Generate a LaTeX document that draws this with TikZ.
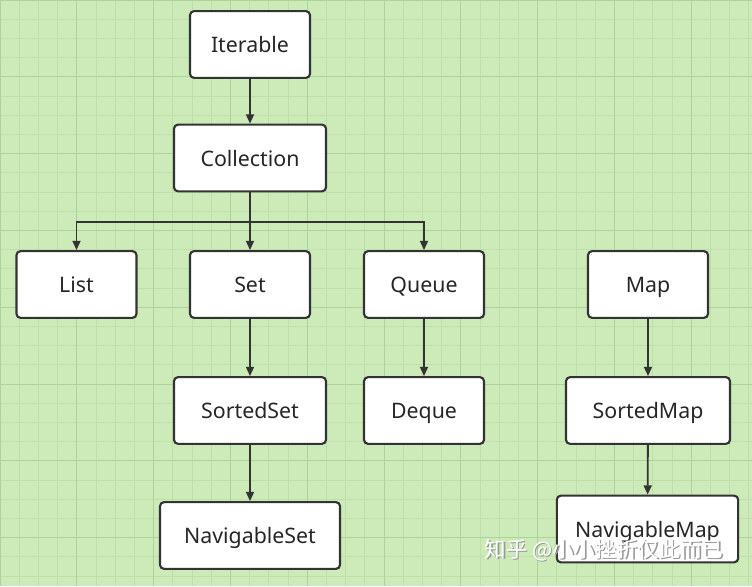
\documentclass[tikz,border=0pt]{standalone}
\usepackage{fontspec}
\setmainfont{Noto Sans}
\newfontfamily\cjk{Noto Sans CJK SC}
\usetikzlibrary{arrows.meta}
\definecolor{bg}{HTML}{CCEBB8}
\definecolor{gminor}{HTML}{BEDFAA}
\definecolor{gmajor}{HTML}{ADD29A}
\definecolor{edge}{HTML}{333333}
\begin{document}
\begin{tikzpicture}[x=0.75pt,y=-0.75pt,
  box/.style={draw=edge,line width=1.6pt,rounded corners=3pt,fill=white,minimum height=50pt,font=\fontsize{16}{19}\selectfont,text=black!85,inner sep=0pt,text height=13.5pt,text depth=1.5pt},
  arr/.style={draw=edge,line width=1.4pt,-{Triangle[length=7pt,width=6pt]}}]
\useasboundingbox (0,0) rectangle (752,586);
\fill[bg] (0,0) rectangle (752,586);
\begin{scope}
\clip (0,0) rectangle (752,586);
\foreach \i in {0,...,40}{\draw[gminor,line width=0.6pt] (\i*19.2,0) -- (\i*19.2,586); \draw[gminor,line width=0.6pt] (0,\i*19.2) -- (752,\i*19.2);}
\foreach \i in {0,...,10}{\draw[gmajor,line width=0.7pt] (\i*76.8,0) -- (\i*76.8,586); \draw[gmajor,line width=0.7pt] (0,\i*76.8) -- (752,\i*76.8);}
\end{scope}
\node[box,minimum width=90pt] (it) at (250,44.5) {Iterable};
\node[box,minimum width=114pt] (co) at (250,158) {Collection};
\node[box,minimum width=90pt] (li) at (76.5,284.5) {List};
\node[box,minimum width=90pt] (se) at (250,284.5) {Set};
\node[box,minimum width=90pt] (qu) at (424,284.5) {Queue};
\node[box,minimum width=90pt] (ma) at (648,284.5) {Map};
\node[box,minimum width=114pt] (ss) at (250,410.5) {SortedSet};
\node[box,minimum width=90pt] (de) at (424,410.5) {Deque};
\node[box,minimum width=123pt] (sm) at (648,410.5) {SortedMap};
\node[box,minimum width=135pt] (ns) at (250,535.5) {NavigableSet};
\node[box,minimum width=136pt] (nm) at (647.5,529) {NavigableMap};
\coordinate (j) at (250,222);
\draw[arr] (it) -- (co);
\draw[draw=edge,line width=1.4pt] (co) -- (j);
\draw[arr] (j) -| (li);
\draw[arr] (j) -- (se);
\draw[arr] (j) -| (qu);
\draw[arr] (se) -- (ss);
\draw[arr] (ss) -- (ns);
\draw[arr] (qu) -- (de);
\draw[arr] (ma) -- (sm);
\draw[arr] (sm) -- (nm);
\node[text=gray!80,font=\cjk\fontsize{16}{19}\selectfont,anchor=west] (wms) at (481.7,551.2) {知乎 @小小挫折仅此而已};
\node[text=white,font=\cjk\fontsize{16}{19}\selectfont,anchor=west] (wm) at (480,550) {知乎 @小小挫折仅此而已};
\end{tikzpicture}
\end{document}
